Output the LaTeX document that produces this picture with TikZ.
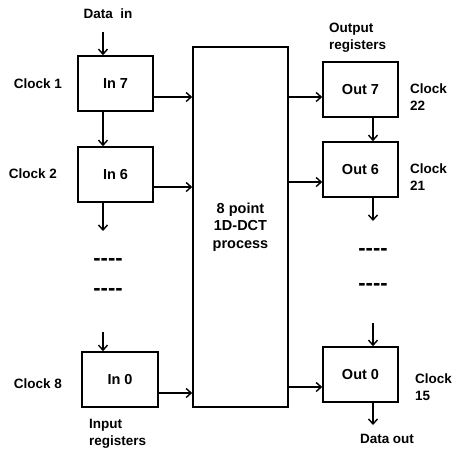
\documentclass[tikz,border=0pt]{standalone}
\usepackage{fontspec}
\setmainfont{Liberation Sans}
\usetikzlibrary{arrows.meta}
\begin{document}
\begin{tikzpicture}[x=1pt,y=-1pt,
  reg/.style={draw,line width=1.6pt,minimum width=75pt,minimum height=55pt,inner sep=0pt,font=\fontsize{14.5}{16}\selectfont\bfseries},
  lbl/.style={font=\fontsize{13.5}{17}\selectfont\bfseries,inner sep=0pt,align=left},
  dsh/.style={font=\fontsize{22}{22}\selectfont\bfseries,inner sep=0pt},
  arr/.style={line width=1.4pt,-{Straight Barb[length=5pt,width=9pt,line width=1.4pt]}}]
\useasboundingbox (0,0) rectangle (474,453);
% DCT block
\node[draw,line width=1.6pt,minimum width=95pt,minimum height=360pt,inner sep=0pt,
      font=\fontsize{14.5}{17.5}\selectfont\bfseries,align=center] (dct) at (240.5,227) {8 point\\1D-DCT\\process};
% input registers
\node[reg] (in7) at (115.5,83.5) {In 7};
\node[reg] (in6) at (115.5,174.5) {In 6};
\node[reg,minimum width=76pt] (in0) at (120,379.5) {In 0};
% output registers
\node[reg] (out7) at (360.5,89.5) {Out 7};
\node[reg] (out6) at (360.5,169.5) {Out 6};
\node[reg] (out0) at (360.5,374.5) {Out 0};
% labels
\node[lbl] (datain) at (108,14) {Data\ \ in};
\node[lbl] (c1) at (38,84) {Clock 1};
\node[lbl] (c2) at (33,174) {Clock 2};
\node[lbl] (c8) at (38,384) {Clock 8};
\node[lbl,anchor=west] (inreg) at (89,433.5) {Input\\registers};
\node[lbl,anchor=west] (outreg) at (329,37.5) {Output\\registers};
\node[lbl,anchor=west] (c22) at (410,97.5) {Clock\\22};
\node[lbl,anchor=west] (c21) at (410,177) {Clock\\21};
\node[lbl,anchor=west] (c15) at (415,387.5) {Clock\\15};
\node[lbl] (dataout) at (387,439) {Data out};
% dashes
\node[dsh] (dl1) at (108,262) {-{}-{}-{}-};
\node[dsh] (dl2) at (108,292) {-{}-{}-{}-};
\node[dsh] (dr1) at (373,251.5) {-{}-{}-{}-};
\node[dsh] (dr2) at (373,286.5) {-{}-{}-{}-};
% free ends
\coordinate (a0) at (103,32);
\coordinate (a1) at (103,231);
\coordinate (a2) at (103,332);
\coordinate (b1) at (373,221);
\coordinate (b2) at (373,323);
\coordinate (b3) at (373,425);
% arrows left column
\draw[arr] (a0) -- (a0 |- in7.north);
\draw[arr] (in7.south -| a0) -- (in6.north -| a0);
\draw[arr] (in6.south -| a0) -- (a1);
\draw[arr] (a2) -- (in0.north -| a2);
% into DCT
\draw[arr] (in7.east |- 0,97) -- (dct.west |- 0,97);
\draw[arr] (in6.east |- 0,187) -- (dct.west |- 0,187);
\draw[arr] (in0.east |- 0,393) -- (dct.west |- 0,393);
% out of DCT
\draw[arr] (dct.east |- 0,97) -- (out7.west |- 0,97);
\draw[arr] (dct.east |- 0,182) -- (out6.west |- 0,182);
\draw[arr] (dct.east |- 0,387) -- (out0.west |- 0,387);
% right column
\draw[arr] (out7.south -| b1) -- (out6.north -| b1);
\draw[arr] (out6.south -| b1) -- (b1);
\draw[arr] (b2) -- (out0.north -| b2);
\draw[arr] (out0.south -| b3) -- (b3);
\end{tikzpicture}
\end{document}
